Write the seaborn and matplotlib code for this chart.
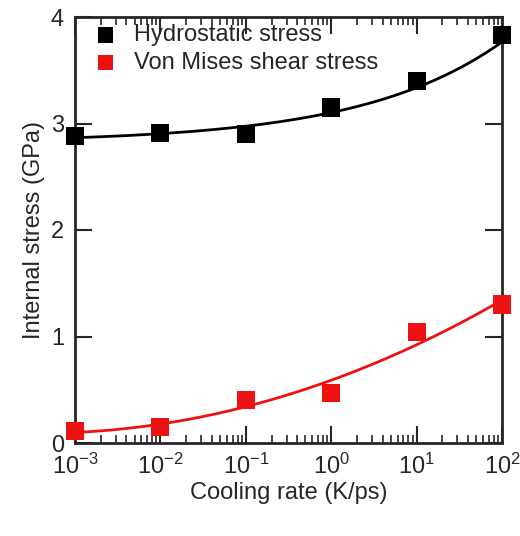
import numpy as np
import matplotlib
matplotlib.use("Agg")
import matplotlib.pyplot as plt
import seaborn as sns

rate = [1e-3, 1e-2, 1e-1, 1e0, 1e1, 1e2]
hydro = [2.88, 2.91, 2.90, 3.15, 3.40, 3.83]
vonmises = [0.11, 0.15, 0.40, 0.47, 1.04, 1.30]

sns.set_style("ticks")
plt.rcParams['font.family'] = ['Liberation Sans', 'DejaVu Sans']
fig = plt.figure(figsize=(5.2, 5.36), dpi=100)
ax = fig.add_axes([75/520, 1-443/536, 427/520, 426/536])

lx = np.log10(rate)
xs = np.linspace(-3, 2, 200)
off = 2.82
ch = np.polyfit(lx, np.log(np.array(hydro) - off), 1)
cv = np.polyfit(lx, vonmises, 2)
ax.plot(10**xs, off + np.exp(np.polyval(ch, xs)), color='black', lw=2)
ax.plot(10**xs, np.polyval(cv, xs), color='#ee1111', lw=2)
sns.scatterplot(x=rate, y=hydro, ax=ax, marker='s', s=170, color='black', edgecolor='none',
                label='Hydrostatic stress', zorder=5, clip_on=False)
sns.scatterplot(x=rate, y=vonmises, ax=ax, marker='s', s=170, color='#ee1111', edgecolor='none',
                label='Von Mises shear stress', zorder=5, clip_on=False)

ax.set_xscale('log')
ax.set_xlim(1e-3, 1e2)
ax.set_ylim(0, 4)
ax.set_yticks([0, 1, 2, 3, 4])
ax.set_xticks([1e-3, 1e-2, 1e-1, 1e0, 1e1, 1e2])
ax.tick_params(which='major', direction='in', length=12, width=1.5, top=True, right=True,
               labelsize=17, pad=8)
ax.tick_params(which='minor', direction='in', length=6, width=1.2, top=True, right=True)
for s in ax.spines.values():
    s.set_linewidth(2)
ax.set_xlabel('Cooling rate (K/ps)', fontsize=17, labelpad=2)
ax.set_ylabel('Internal stress (GPa)', fontsize=17, labelpad=4)
ax.legend(loc='upper left', frameon=False, fontsize=17, handletextpad=0.2,
          borderaxespad=0.2, labelspacing=0.25, markerscale=0.85, borderpad=0.1)
fig.savefig('out.png', dpi=100)
